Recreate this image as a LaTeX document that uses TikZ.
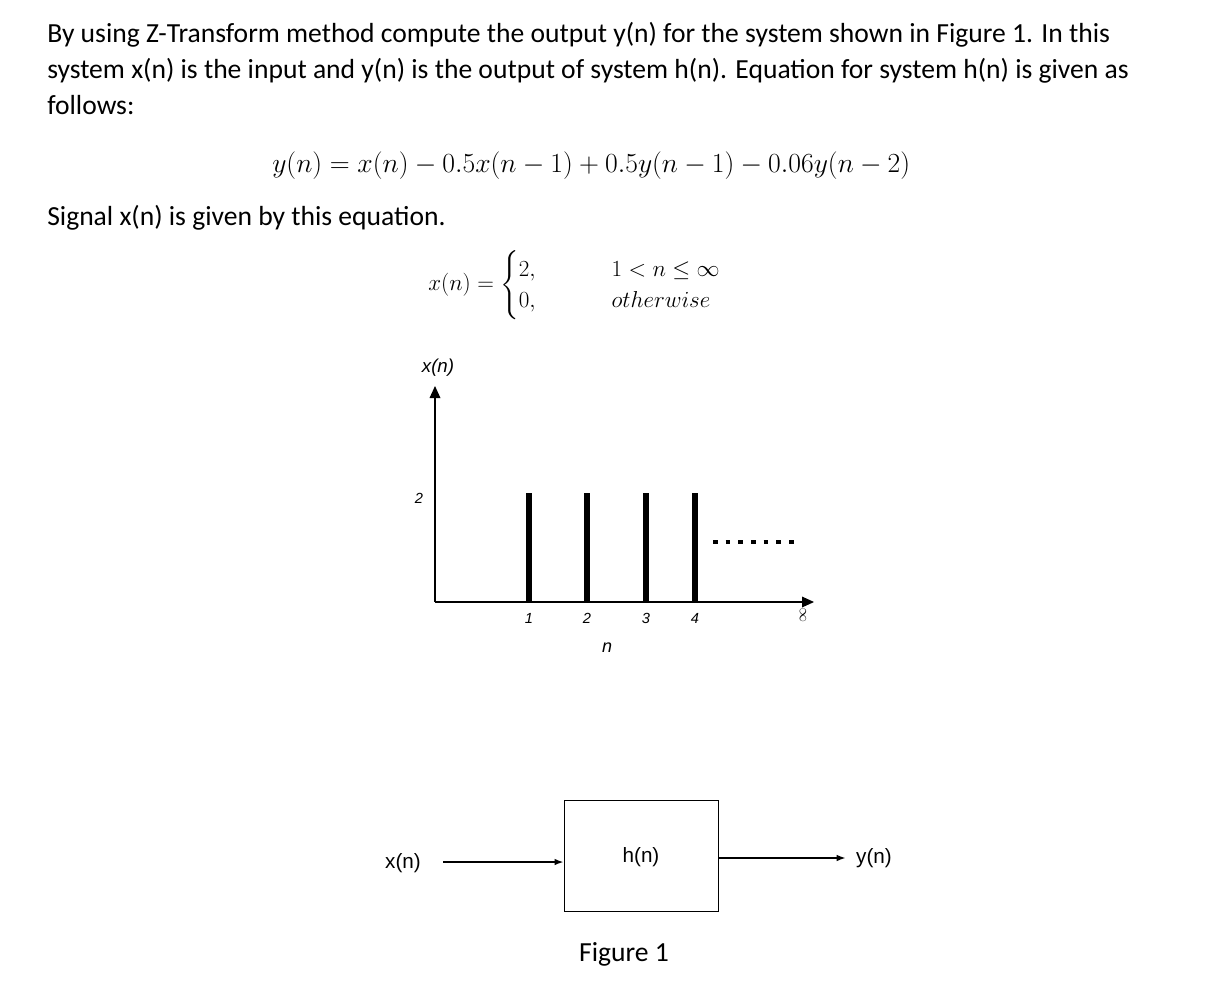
\documentclass[tikz,border=0pt]{standalone}
\usepackage{amsmath}
\usepackage{fontspec}
\setmainfont{Carlito}
\newfontfamily\arialf{Liberation Sans}
\usetikzlibrary{arrows.meta}
\begin{document}
\begin{tikzpicture}[x=0.75pt,y=-0.75pt,
  body/.style={font=\fontsize{20.7}{24}\selectfont,inner sep=0pt},
  eq/.style={font=\fontsize{22}{26}\selectfont,inner sep=0pt},
  plab/.style={font=\arialf\itshape\fontsize{11}{12}\selectfont,inner sep=0pt},
  bar/.style={line width=3.8pt},
  conn/.style={line width=1.4pt,-{Latex[length=7pt,width=5pt]}}]
\useasboundingbox (0,0) rectangle (1220,985);
\node[body,anchor=base west] (t1) at (47,42) {By using Z-Transform method compute the output y(n) for the system shown in Figure 1. In this};
\node[body,anchor=base west] (t2) at (47,78) {system x(n) is the input and y(n) is the output of system h(n). Equation for system h(n) is given as};
\node[body,anchor=base west] (t3) at (47,114) {follows:};
\node[eq,anchor=base west] (e1) at (272,172) {$y(n)=x(n)-0.5x(n-1)+0.5y(n-1)-0.06y(n-2)$};
\node[body,anchor=base west] (t4) at (47,225) {Signal x(n) is given by this equation.};
\node[font=\fontsize{19}{22}\selectfont,inner sep=0pt,anchor=west] (e2) at (428,285) {$x(n)=\begin{cases}2, & \qquad 1<n\le\infty\\[-3pt] 0, & \qquad \mathnormal{otherwise}\end{cases}$};
% plot
\coordinate (o) at (435,602);
\coordinate (ytop) at (435,386);
\coordinate (xend) at (814,602);
\draw[line width=0.9pt,-{Triangle[length=9pt,width=8pt]}] (o) -- (ytop);
\draw[line width=0.9pt,-{Triangle[length=9pt,width=8pt]}] (o) -- (xend);
\foreach \x/\l in {529/1,587/2,646/3,695/4}{
  \draw[bar] (\x,602) -- (\x,493);
  \node[plab] at (\x,618) {\l};
}
\draw[line width=3.5pt,dash pattern=on 3.5pt off 6pt] (713,542) -- (800,542);
\node[plab] (yl) at (419,498) {2};
\node[plab,font=\arialf\itshape\fontsize{14}{15}\selectfont] (xl) at (438,368) {x(n)};
\node[plab,font=\arialf\itshape\fontsize{13.5}{15}\selectfont] (nl) at (607,648) {n};
\node[plab,rotate=90] (inf) at (803,615) {$\infty$};
% block
\node[draw,line width=1pt,minimum width=154*0.75pt,minimum height=111*0.75pt,inner sep=0pt] (h) at (641.5,856) {};
\node[font=\arialf\fontsize{15.5}{18}\selectfont,inner sep=0pt] (hl) at (641,857) {h(n)};
\node[font=\arialf\fontsize{15.5}{18}\selectfont,inner sep=0pt] (xin) at (403,863) {x(n)};
\node[font=\arialf\fontsize{15.5}{18}\selectfont,inner sep=0pt] (yout) at (874,858) {y(n)};
\coordinate (a1) at (443,862);
\draw[conn] (a1) -- (h.west |- a1);
\coordinate (a2) at (h.east |- 0,858);
\draw[conn] (a2) -- (846,858);
\node[body,anchor=base] (fig) at (624,961) {Figure 1};
\end{tikzpicture}
\end{document}
